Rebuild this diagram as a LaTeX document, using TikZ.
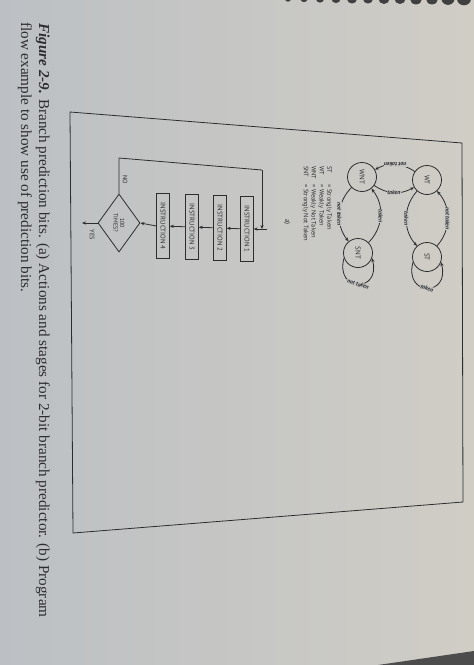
\documentclass[tikz,border=0pt]{standalone}
\usepackage{fontspec}
\usepackage{graphicx}
\setmainfont{Liberation Serif}
\newfontfamily\diagfont{PT Sans}
\usetikzlibrary{shapes.geometric,arrows.meta}

\definecolor{paperl}{RGB}{188,192,196}
\definecolor{paperr}{RGB}{208,205,197}
\definecolor{ink}{RGB}{45,45,48}

\newcommand{\turn}[1]{\rotatebox[origin=c]{-90}{#1}}

\tikzset{
  rot/.style = {rotate=-90},
  state/.style = {circle, draw=ink, thick, minimum size=29pt, inner sep=0pt,
    font=\diagfont\fontsize{7}{8}\selectfont, text=ink},
  trans/.style = {->, draw=ink, thick},
  lbl/.style = {font=\diagfont\bfseries\itshape\fontsize{5.8}{6}\selectfont, text=ink,
    inner sep=0.5pt, fill=paperl!55!paperr},
  instr/.style = {draw=ink, thick, rot, minimum width=65pt, minimum height=12.5pt,
    inner sep=1pt, font=\diagfont\fontsize{6.8}{7.5}\selectfont, text=ink},
  small/.style = {rot, inner sep=0pt, text=ink, font=\diagfont\fontsize{6.4}{7.8}\selectfont},
}

\begin{document}
\begin{tikzpicture}[x=1pt, y=1pt, >={Stealth[length=4pt,width=3.2pt]}]
    \useasboundingbox (0,0) rectangle (474,-665);
    \shade[left color=paperl, right color=paperr] (0,0) rectangle (474,-665);
    \foreach \bx/\br in {288/3,304/3.5,320/4,336/4.5,352/5,368/5,384/5.5,400/5.5,416/6,432/6,448/6.5,464/7}
        \fill[black!75] (\bx,1) ellipse (\br pt and 0.9*\br pt);
    \fill[black!70] (378,-665) -- (474,-651) -- (474,-665) -- cycle;

    \draw[ink, line width=0.8pt] (70,-112) -- (462,-143) -- (463,-502) -- (73,-533) -- cycle;

    \node[rot, anchor=base west, inner sep=0pt, text=ink, font=\fontsize{15.2}{18}\selectfont] (cap1) at (39,-23)
        {\textbf{\textit{Figure 2-9.}} Branch prediction bits. (a) Actions and stages for 2-bit branch predictor. (b) Program};
    \node[rot, anchor=base west, inner sep=0pt, text=ink, font=\fontsize{15.2}{18}\selectfont] (cap2) at (21,-22)
        {flow example to show use of prediction bits.};

    \node[state] (wt) at (427,-180) {\turn{WT}};
    \node[state] (st) at (427,-257) {\turn{ST}};
    \node[state] (wnt) at (362,-177) {\turn{WNT}};
    \node[state] (snt) at (358,-253) {\turn{SNT}};

    \draw[trans] (wnt) to[bend right=32] node[lbl] {taken} (wt);
    \draw[trans] (wt) to[bend right=32] node[lbl, rotate=180] {not taken} (wnt);
    \draw[trans] (wt) to[bend right=42] node[lbl, rot] {taken} (st);
    \draw[trans] (st) to[bend right=42] node[lbl, rot] {not taken} (wt);
    \draw[trans] (wnt) to[bend right=42] node[lbl, rot] {not taken} (snt);
    \draw[trans] (snt) to[bend right=42] node[lbl, rot] {taken} (wnt);
    \draw[trans] (st.-160) .. controls +(-105:36) and +(-75:36) .. (st.-20) node[midway, lbl, rotate=-18] {taken};
    \draw[trans] (snt.-160) .. controls +(-105:36) and +(-75:36) .. (snt.-20) node[midway, lbl, rotate=-18] {not taken};

    \node[small, anchor=north west] (legend) at (333,-166) {\begin{tabular}{@{}l@{\hspace{5pt}}l@{}}
        ST & = Strongly Taken\\
        WT & = Weakly Taken\\
        WNT & = Weakly Not Taken\\
        SNT & = Strongly Not Taken
    \end{tabular}};
    \node[small, font=\diagfont\fontsize{7}{8}\selectfont] (parta) at (287,-222) {a)};

    \node[instr] (ins1) at (247,-229) {INSTRUCTION 1};
    \node[instr] (ins2) at (220,-228) {INSTRUCTION 2};
    \node[instr] (ins3) at (192,-227) {INSTRUCTION 3};
    \node[instr] (ins4) at (163,-226) {INSTRUCTION 4};
    \node[diamond, draw=ink, thick, rot, minimum width=58pt, minimum height=42pt, inner sep=0pt,
        align=center, text=ink, font=\diagfont\fontsize{6}{6.5}\selectfont] (cnt) at (119,-223) {100\\TIMES?};

    \draw[trans] (ins1) -- (ins2);
    \draw[trans] (ins2) -- (ins3);
    \draw[trans] (ins3) -- (ins4);
    \draw[trans] (ins4.south) -- (cnt.north);

    \coordinate (yes) at (82,-223);
    \coordinate (nob) at (119,-158);
    \coordinate (noc) at (262,-170);
    \coordinate (noj) at (262,-229);
    \coordinate (entry) at (267,-229);
    \draw[trans] (cnt.south) -- (yes);
    \draw[ink, thick] (cnt.west) -- (nob) -- (noc);
    \draw[trans] (noc) -- (noj);
    \draw[trans] (entry) -- (ins1.north);
    \node[small] (yeslbl) at (92,-235) {YES};
    \node[small] (nolbl) at (125,-180) {NO};
\end{tikzpicture}
\end{document}
